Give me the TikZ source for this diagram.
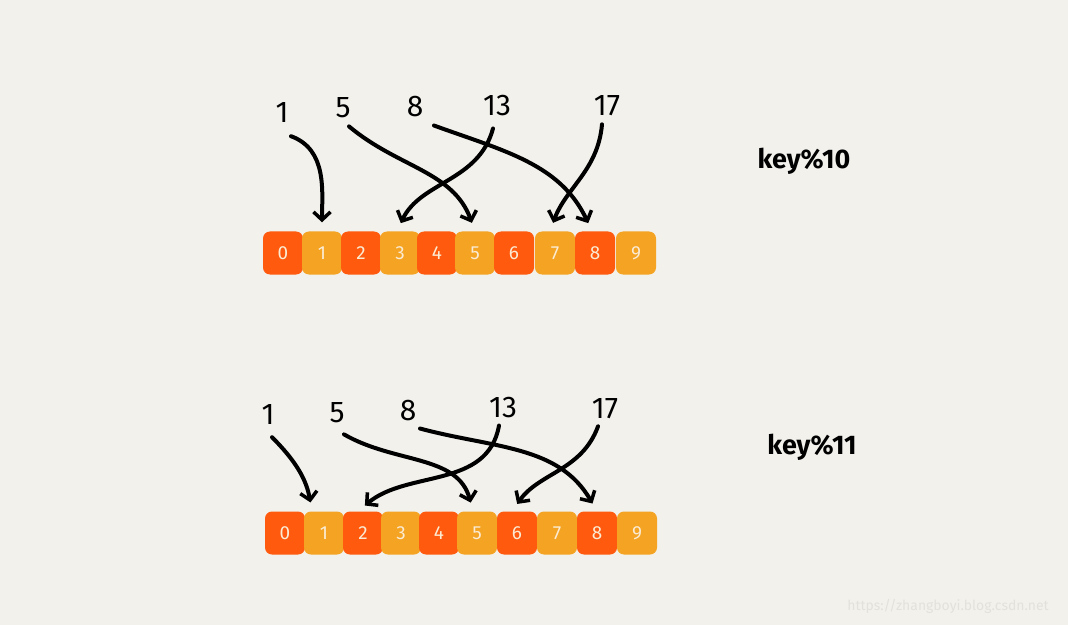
\documentclass[tikz,border=0pt]{standalone}
\usepackage{fontspec}
\setmainfont{Fira Sans}
\usetikzlibrary{arrows.meta}
\definecolor{bg}{HTML}{F2F1EC}
\definecolor{cred}{HTML}{FF5A0E}
\definecolor{cyel}{HTML}{F4A322}
\definecolor{ctxt}{HTML}{FBEBD2}
\definecolor{wm}{HTML}{E2E1DC}
\tikzset{
  cellbox/.style={minimum width=40bp,minimum height=43bp,rounded corners=7bp,inner sep=0pt,
     text=ctxt,font=\fontsize{19}{19}\selectfont},
  redcell/.style={cellbox,fill=cred},
  yelcell/.style={cellbox,fill=cyel},
  keylbl/.style={font=\fontsize{27}{27}\selectfont\bfseries,text=black,inner sep=0pt},
  numlbl/.style={font=\fontsize{30}{30}\selectfont,text=black,inner sep=0pt},
  hand/.style={line width=4bp,black,line cap=round,
     -{Straight Barb[length=8bp,width=17bp,line width=3.5bp]},shorten >=9bp}
}
\begin{document}
\begin{tikzpicture}[x=1bp,y=1bp]
\fill[bg] (0,0) rectangle (1068,-625);
\useasboundingbox (0,0) rectangle (1068,-625);

% top row cells
\foreach \i/\x in {0/283,1/322,2/361,3/400,4/437,5/475,6/514,7/555,8/595,9/636}{
  \pgfmathtruncatemacro{\r}{mod(\i,2)}
  \ifnum\r=0 \node[redcell] (a\i) at (\x,-253) {\i};
  \else \node[yelcell] (a\i) at (\x,-253) {\i}; \fi
}
% bottom row cells
\foreach \i/\x in {0/285,1/324,2/363,3/401,4/439,5/477,6/517,7/557,8/597,9/637}{
  \pgfmathtruncatemacro{\r}{mod(\i,2)}
  \ifnum\r=0 \node[redcell] (b\i) at (\x,-533) {\i};
  \else \node[yelcell] (b\i) at (\x,-533) {\i}; \fi
}

% top labels
\node[numlbl] (t1) at (282,-113) {1};
\node[numlbl] (t5) at (343,-108) {5};
\node[numlbl] (t8) at (415,-107) {8};
\node[numlbl] (t13) at (497,-106) {13};
\node[numlbl] (t17) at (607,-106) {17};
\node[keylbl] (k10) at (804,-161) {key\%10};

% bottom labels
\node[numlbl] (u1) at (268,-415) {1};
\node[numlbl] (u5) at (337,-413) {5};
\node[numlbl] (u8) at (408,-411) {8};
\node[numlbl] (u13) at (503,-408) {13};
\node[numlbl] (u17) at (605,-409) {17};
\node[keylbl] (k11) at (812,-447) {key\%11};

% top connectors
\draw[hand] ([xshift=9bp,yshift=-13bp]t1.south) to[out=-20,in=90] (a1.north);
\draw[hand] ([xshift=6bp,yshift=-8bp]t5.south) to[out=-40,in=110] (a5.north);
\draw[hand] ([xshift=19bp,yshift=-8bp]t8.south) to[out=-20,in=115] ([xshift=-3bp]a8.north);
\draw[hand] ([xshift=-4bp,yshift=-12bp]t13.south) to[out=-105,in=65] ([xshift=-3bp]a3.north);
\draw[hand] ([xshift=-5bp,yshift=-8bp]t17.south) to[out=-95,in=70] ([xshift=-5bp]a7.north);

% bottom connectors
\draw[hand] ([xshift=4bp,yshift=-12bp]u1.south) to[out=-45,in=100] ([xshift=-12bp]b1.north);
\draw[hand] ([xshift=7bp,yshift=-11bp]u5.south) to[out=-30,in=105] ([xshift=-4bp]b5.north);
\draw[hand] ([xshift=12bp,yshift=-7bp]u8.south) to[out=-15,in=120] (b8.north);
\draw[hand] ([xshift=-4bp,yshift=-7bp]u13.south) to[out=-100,in=40] ([xshift=-5bp]b2.north);
\draw[hand] ([xshift=-7bp,yshift=-7bp]u17.south) to[out=-110,in=55] ([xshift=-5bp]b6.north);

% watermark
\node[text=wm,font=\fontsize{14}{14}\selectfont,inner sep=0pt] (wmk) at (948,-606) {https://zhangboyi.blog.csdn.net};
\end{tikzpicture}
\end{document}
